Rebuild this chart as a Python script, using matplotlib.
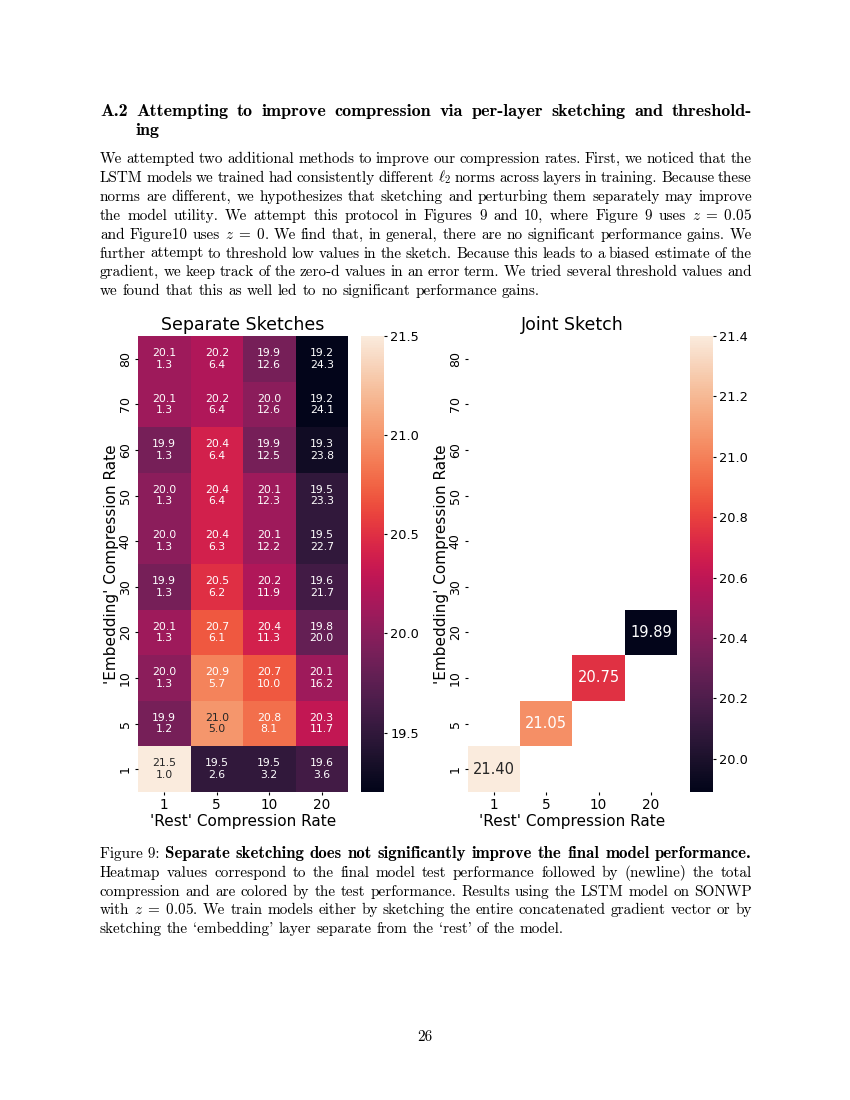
import numpy as np
import matplotlib
matplotlib.use("Agg")
import matplotlib.pyplot as plt
import seaborn as sns

W, H = 850, 1100

# heatmap data
emb_rates = [80, 70, 60, 50, 40, 30, 20, 10, 5, 1]
rest_rates = [1, 5, 10, 20]

sep_perf = [
    [20.1, 20.2, 19.9, 19.2],
    [20.1, 20.2, 20.0, 19.2],
    [19.9, 20.4, 19.9, 19.3],
    [20.0, 20.4, 20.1, 19.5],
    [20.0, 20.4, 20.1, 19.5],
    [19.9, 20.5, 20.2, 19.6],
    [20.1, 20.7, 20.4, 19.8],
    [20.0, 20.9, 20.7, 20.1],
    [19.9, 21.0, 20.8, 20.3],
    [21.5, 19.5, 19.5, 19.6],
]
sep_comp = [
    [1.3, 6.4, 12.6, 24.3],
    [1.3, 6.4, 12.6, 24.1],
    [1.3, 6.4, 12.5, 23.8],
    [1.3, 6.4, 12.3, 23.3],
    [1.3, 6.3, 12.2, 22.7],
    [1.3, 6.2, 11.9, 21.7],
    [1.3, 6.1, 11.3, 20.0],
    [1.3, 5.7, 10.0, 16.2],
    [1.2, 5.0, 8.1, 11.7],
    [1.0, 2.6, 3.2, 3.6],
]
# joint sketch: only where embedding rate == rest rate
joint_perf = [21.40, 21.05, 20.75, 19.89]

# page text
heading_num = "A.2"
heading = ["Attempting to improve compression via per-layer sketching and threshold-", "ing"]
body = [
    "We attempted two additional methods to improve our compression rates. First, we noticed that the",
    "LSTM models we trained had consistently different $\\ell_2$ norms across layers in training. Because these",
    "norms are different, we hypothesizes that sketching and perturbing them separately may improve",
    "the model utility. We attempt this protocol in Figures 9 and 10, where Figure 9 uses $z\\;=\\;0.05$",
    "and Figure10 uses $z\\;=\\;0$. We find that, in general, there are no significant performance gains. We",
    "further attempt to threshold low values in the sketch. Because this leads to a biased estimate of the",
    "gradient, we keep track of the zero-d values in an error term. We tried several threshold values and",
    "we found that this as well led to no significant performance gains.",
]
cap_label = "Figure 9:"
cap_bold = "Separate sketching does not significantly improve the final model performance."
caption = [
    "Heatmap values correspond to the final model test performance followed by (newline) the total",
    "compression and are colored by the test performance. Results using the LSTM model on SONWP",
    "with $z\\;=\\;0.05$. We train models either by sketching the entire concatenated gradient vector or by",
    "sketching the `embedding' layer separate from the `rest' of the model.",
]

plt.rcParams['mathtext.fontset'] = 'cm'

fig = plt.figure(figsize=(8.5, 11), dpi=100)
renderer = fig.canvas.get_renderer()

REG = ['cmr10', 'DejaVu Serif']
BLD = ['cmb10', 'DejaVu Serif']


def width_of(s, fam, size):
    t = fig.text(0, 0, s, fontsize=size, family=fam)
    w = t.get_window_extent(renderer).width
    t.remove()
    return w


def fit_size(words, fam, target, size0=10.0):
    # font size at which the words plus normal spaces fill the target width
    total = sum(width_of(w, fam, size0) for w in words)
    sp = (len(words) - 1) * 0.333 * size0 * 100 / 72
    return size0 * target / (total + sp)


def put_line(words, fam, x0, y, size, x1=None):
    objs = [fig.text(0, 0, s, fontsize=size, family=fam, va='baseline') for s in words]
    widths = [t.get_window_extent(renderer).width for t in objs]
    if x1 is not None and len(objs) > 1:
        gap = (x1 - x0 - sum(widths)) / (len(objs) - 1)
    else:
        gap = size * 0.333 * 100 / 72
    x = x0
    for t, w in zip(objs, widths):
        t.set_position((x / W, 1 - y / H))
        x += w + gap
    return x


L, R = 100, 752
BODY = 10.95

# heading
hwords = heading[0].split()
hsize = fit_size(hwords, BLD, R - 136 - 7 * 8 + 0.333 * 10 * 100 / 72 * 8)
put_line([heading_num], BLD, L, 116, hsize)
put_line(hwords, BLD, 136, 116, hsize, R)
put_line([heading[1]], BLD, 136, 135, hsize)

# body
for i, line in enumerate(body):
    last = i == len(body) - 1
    put_line(line.split(), REG, L, 163 + 18.9 * i, BODY, None if last else R)

# caption
cx = put_line([cap_label], REG, L, 858, BODY)
bwords = cap_bold.split()
bsize = fit_size(bwords, BLD, R - cx)
put_line(bwords, BLD, cx, 858, bsize, R)
for i, line in enumerate(caption):
    last = i == len(caption) - 1
    put_line(line.split(), REG, L, 858 + 18.8 * (i + 1), BODY, None if last else R)

fig.text(425 / W, 1 - 1041 / H, "26", family=REG, fontsize=BODY, ha='center', va='baseline')

# heatmaps
perf = np.array(sep_perf)
labels = np.array([["%.1f\n%.1f" % (p, c) for p, c in zip(pr, cr)]
                   for pr, cr in zip(sep_perf, sep_comp)])

joint = np.full((len(emb_rates), len(rest_rates)), np.nan)
for j, r in enumerate(rest_rates):
    joint[emb_rates.index(r), j] = joint_perf[j]

bot = 1 - 792 / H
hgt = 456 / H
ax1 = fig.add_axes([138 / W, bot, 210 / W, hgt])
cax1 = fig.add_axes([361 / W, bot, 23 / W, hgt])
ax2 = fig.add_axes([468 / W, bot, 209 / W, hgt])
cax2 = fig.add_axes([690 / W, bot, 23 / W, hgt])

sns.heatmap(perf, annot=labels, fmt='', cmap='rocket', ax=ax1, cbar_ax=cax1,
            xticklabels=rest_rates, yticklabels=emb_rates, annot_kws={'size': 7.8})
sns.heatmap(joint, annot=True, fmt='.2f', cmap='rocket', ax=ax2, cbar_ax=cax2,
            xticklabels=rest_rates, yticklabels=emb_rates, annot_kws={'size': 10.5})

for ax, title in [(ax1, "Separate Sketches"), (ax2, "Joint Sketch")]:
    ax.set_title(title, fontsize=12.5, pad=4)
    ax.set_xlabel("'Rest' Compression Rate", fontsize=11, labelpad=1)
    ax.set_ylabel("'Embedding' Compression Rate", fontsize=11, labelpad=0)
    ax.set_yticklabels(emb_rates, rotation=90, va='center', fontsize=9)
    ax.set_xticklabels(rest_rates, rotation=0, fontsize=9.8)
    ax.tick_params(length=2.5, pad=2)
for cax in (cax1, cax2):
    cax.tick_params(labelsize=9.3, length=2.5, pad=2)

fig.savefig("out.png", dpi=100)
